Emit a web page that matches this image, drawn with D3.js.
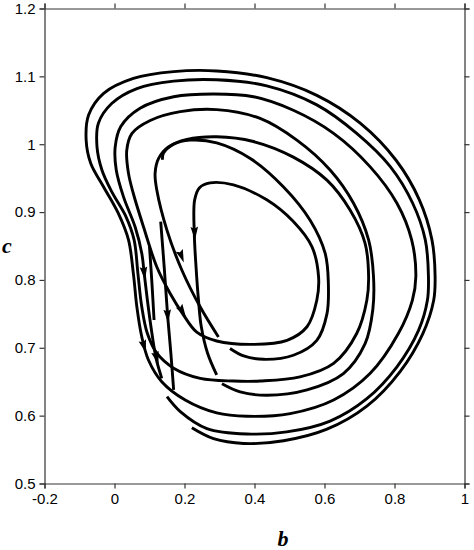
<!DOCTYPE html>
<html><head><meta charset="utf-8">
<script src="https://cdn.jsdelivr.net/npm/d3@7"></script>
<style>body{margin:0;background:#fff}</style>
</head><body>
<svg id="chart" width="474" height="550"></svg>
<script>
const xTickValues = [-0.2,0,0.2,0.4,0.6,0.8,1];
const xTickLabels = ["-0.2","0","0.2","0.4","0.6","0.8","1"];
const yTickValues = [0.5,0.6,0.7,0.8,0.9,1,1.1,1.2];
const yTickLabels = ["0.5","0.6","0.7","0.8","0.9","1","1.1","1.2"];

// trajectory A: outermost loop -> second loop -> descending stroke
const trajA = [[0.221,0.582],[0.283,0.566],[0.369,0.559],[0.483,0.563],[0.607,0.580],[0.721,0.614],[0.816,0.665],[0.881,0.721],[0.912,0.770],[0.916,0.805],[0.907,0.859],[0.871,0.918],[0.805,0.976],[0.702,1.031],[0.578,1.072],[0.435,1.098],[0.292,1.108],[0.169,1.107],[0.054,1.097],[-0.031,1.075],[-0.074,1.043],[-0.081,1.006],[-0.068,0.972],[-0.031,0.937],[0.011,0.898],[0.040,0.859],[0.054,0.809],[0.064,0.760],[0.078,0.716],[0.097,0.682],[0.135,0.650],[0.202,0.623],[0.292,0.604],[0.378,0.599],[0.502,0.603],[0.626,0.623],[0.730,0.662],[0.811,0.721],[0.851,0.770],[0.861,0.805],[0.849,0.859],[0.807,0.913],[0.730,0.967],[0.626,1.016],[0.511,1.050],[0.397,1.070],[0.283,1.074],[0.169,1.070],[0.073,1.053],[0.018,1.026],[0.002,0.996],[0.005,0.962],[0.026,0.922],[0.059,0.878],[0.078,0.839],[0.085,0.809],[0.094,0.770],[0.107,0.721],[0.119,0.684],[0.135,0.655]];
// trajectory B
const trajB = [[0.150,0.628],[0.188,0.606],[0.264,0.581],[0.378,0.573],[0.492,0.576],[0.616,0.592],[0.721,0.625],[0.807,0.672],[0.869,0.726],[0.894,0.770],[0.897,0.805],[0.888,0.859],[0.852,0.913],[0.788,0.967],[0.692,1.016],[0.578,1.058],[0.435,1.086],[0.292,1.095],[0.169,1.093],[0.064,1.082],[-0.008,1.060],[-0.046,1.031],[-0.050,0.996],[-0.036,0.962],[-0.008,0.930],[0.033,0.893],[0.056,0.859],[0.067,0.809],[0.078,0.760],[0.094,0.721],[0.121,0.692],[0.169,0.670],[0.245,0.655],[0.340,0.651],[0.416,0.651],[0.530,0.657],[0.626,0.677],[0.692,0.721],[0.721,0.770],[0.726,0.805],[0.716,0.854],[0.673,0.903],[0.607,0.947],[0.511,0.981],[0.397,1.004],[0.292,1.011],[0.207,1.007],[0.154,0.996],[0.126,0.979],[0.116,0.957],[0.121,0.932],[0.150,0.873],[0.192,0.815],[0.245,0.760],[0.297,0.716]];
// trajectory C
const trajC = [[0.307,0.647],[0.359,0.635],[0.435,0.630],[0.550,0.638],[0.654,0.662],[0.716,0.706],[0.738,0.756],[0.740,0.805],[0.726,0.859],[0.683,0.913],[0.616,0.962],[0.521,1.006],[0.416,1.038],[0.292,1.051],[0.188,1.048],[0.102,1.035],[0.050,1.016],[0.035,0.991],[0.040,0.957],[0.054,0.927],[0.083,0.878],[0.121,0.819],[0.159,0.780],[0.195,0.750],[0.235,0.723],[0.292,0.710],[0.397,0.705],[0.493,0.711],[0.550,0.731],[0.578,0.770],[0.583,0.805],[0.564,0.849],[0.511,0.886],[0.435,0.918],[0.340,0.940],[0.273,0.943],[0.243,0.936],[0.229,0.918],[0.228,0.868],[0.233,0.819],[0.240,0.770],[0.248,0.731],[0.266,0.692],[0.292,0.660]];
// trajectory D
const trajD = [[0.330,0.699],[0.369,0.688],[0.426,0.683],[0.511,0.689],[0.578,0.711],[0.607,0.750],[0.611,0.795],[0.602,0.839],[0.559,0.888],[0.483,0.937],[0.388,0.979],[0.292,1.002],[0.216,1.006],[0.169,1.000],[0.140,0.987],[0.137,0.977]];
// short strokes on the left
const trajE = [[0.132,0.886],[0.142,0.819],[0.152,0.746],[0.161,0.692],[0.169,0.638]];
const trajF = [[0.100,0.849],[0.107,0.795],[0.113,0.741]];

const trajectories = [trajA, trajB, trajC, trajD, trajE, trajF];
const arrowPoints = [[0.085,0.809],[0.192,0.834],[0.229,0.868],[0.195,0.753],[0.152,0.746],[0.085,0.701],[0.121,0.684]];

const W = 474, H = 550;
const margin = {left:44.5, right:9.5, top:8.5, bottom:66.5};
const svg = d3.select("#chart");
const x = d3.scaleLinear().domain([-0.2,1]).range([margin.left, W - margin.right]);
const y = d3.scaleLinear().domain([0.5,1.2]).range([H - margin.bottom, margin.top]);

const font = "'Liberation Sans', Arial, Helvetica, sans-serif";
const axisColor = "#333";

function styleAxis(g){
  g.selectAll("path.domain").attr("stroke", axisColor).attr("stroke-width", 1.2);
  g.selectAll(".tick line").attr("stroke", axisColor).attr("stroke-width", 1.2);
  g.selectAll(".tick text").attr("fill", "#000").style("font-family", font).style("font-size", "15px");
}

svg.append("g").attr("transform", `translate(0,${y(0.5)})`)
  .call(d3.axisBottom(x).tickValues(xTickValues).tickFormat((d,i)=>xTickLabels[i]).tickSizeOuter(0).tickSize(5).tickPadding(5))
  .call(styleAxis);
svg.append("g").attr("transform", `translate(0,${y(1.2)})`)
  .call(d3.axisTop(x).tickValues(xTickValues).tickFormat("").tickSizeOuter(0).tickSize(5))
  .call(styleAxis);
svg.append("g").attr("transform", `translate(${x(-0.2)},0)`)
  .call(d3.axisLeft(y).tickValues(yTickValues).tickFormat((d,i)=>yTickLabels[i]).tickSizeOuter(0).tickSize(5).tickPadding(4))
  .call(styleAxis);
svg.append("g").attr("transform", `translate(${x(1)},0)`)
  .call(d3.axisRight(y).tickValues(yTickValues).tickFormat("").tickSizeOuter(0).tickSize(5))
  .call(styleAxis);

const line = d3.line().x(d=>x(d[0])).y(d=>y(d[1])).curve(d3.curveCatmullRom.alpha(0.5));
svg.append("g").selectAll("path").data(trajectories).join("path")
  .attr("d", line).attr("fill","none").attr("stroke","#000")
  .attr("stroke-width", 2.9).attr("stroke-linecap","butt").attr("stroke-linejoin","round");

// arrows: direction taken from nearest trajectory segment
function dirAt(p){
  let best = null, bd = Infinity;
  trajectories.forEach(t => {
    for (let i=0;i<t.length-1;i++){
      const ax=x(t[i][0]), ay=y(t[i][1]), bx=x(t[i+1][0]), by=y(t[i+1][1]);
      const px=x(p[0]), py=y(p[1]);
      const dx=bx-ax, dy=by-ay; const L2=dx*dx+dy*dy;
      let u=((px-ax)*dx+(py-ay)*dy)/L2; u=Math.max(0,Math.min(1,u));
      const qx=ax+u*dx, qy=ay+u*dy; const d=(px-qx)**2+(py-qy)**2;
      if (d<bd){bd=d; const L=Math.sqrt(L2); best=[dx/L,dy/L];}
    }
  });
  return best;
}
svg.append("g").selectAll("path").data(arrowPoints).join("path")
  .attr("d", p => {
    const [ux,uy] = dirAt(p); const px=x(p[0]), py=y(p[1]);
    const vx=-uy, vy=ux;
    const tip=[px+ux*6, py+uy*6], b1=[px-ux*7+vx*3.8, py-uy*7+vy*3.8], b2=[px-ux*7-vx*3.8, py-uy*7-vy*3.8];
    return `M${tip}L${b1}L${px-ux*5},${py-uy*5}L${b2}Z`;
  }).attr("fill","#000");

svg.append("text").attr("x", 283).attr("y", 546).attr("text-anchor","middle")
  .style("font-family","'Liberation Serif','Times New Roman',serif").style("font-style","italic").style("font-weight","bold").style("font-size","22px").text("b");
svg.append("text").attr("x", 2).attr("y", 253)
  .style("font-family","'Liberation Serif','Times New Roman',serif").style("font-style","italic").style("font-weight","bold").style("font-size","22px").text("c");
</script>
</body></html>
